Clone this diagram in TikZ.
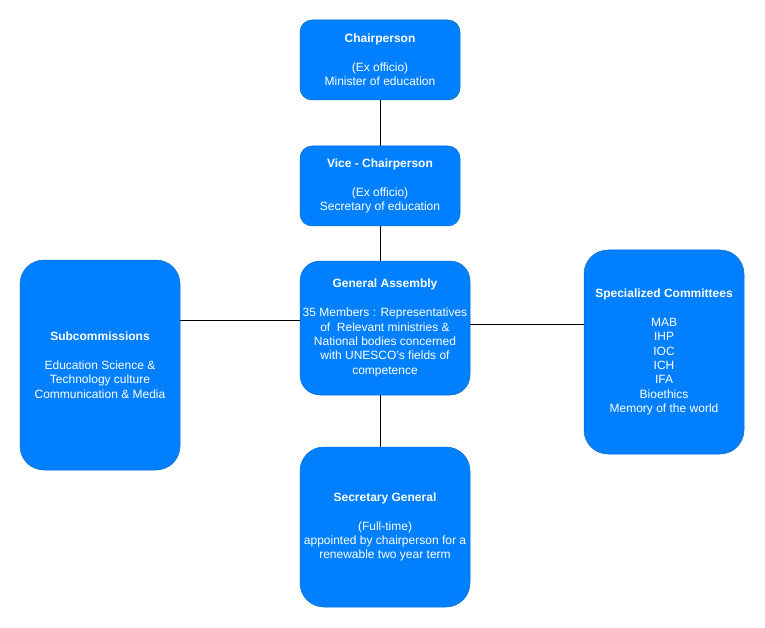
\documentclass[tikz,border=0pt]{standalone}
\usepackage{fontspec}
\setmainfont{Liberation Sans}
\usepackage{tikz}
\usetikzlibrary{positioning, calc}
\definecolor{boxblue}{HTML}{007FFF}

\begin{document}
\begin{tikzpicture}[
    x=1pt, y=-1pt,
    box/.style={draw=boxblue!85!black, line width=0.5pt, fill=boxblue, text=white, align=center, inner sep=0pt, font=\fontsize{12}{14.4}\selectfont},
    line/.style={draw=black, line width=0.8pt}
]
    \useasboundingbox (0,0) rectangle (765,628);
    \node[box, rounded corners=12pt, minimum width=160pt, minimum height=80pt] at (380,60) (chair) {\textbf{Chairperson}\\[14.4pt](Ex officio)\\Minister of education};
    \node[box, rounded corners=12pt, minimum width=160pt, minimum height=80pt] at (380,186) (vice) {\textbf{Vice - Chairperson}\\[14.4pt](Ex officio)\\Secretary of education};
    \node[box, rounded corners=20pt, minimum width=170pt, minimum height=134pt] at (385,328) (ga) {\textbf{General Assembly}\\[14.4pt]35 Members : Representatives\\of \ Relevant ministries \&\\National bodies concerned\\with UNESCO's fields of\\competence};
    \node[box, rounded corners=24pt, minimum width=160pt, minimum height=210pt] at (100,365) (sub) {\textbf{Subcommissions}\\[14.4pt]Education Science \&\\Technology culture\\Communication \& Media};
    \node[box, rounded corners=24pt, minimum width=160pt, minimum height=204pt] at (664,352) (spec) {\textbf{Specialized Committees}\\[14.4pt]MAB\\IHP\\IOC\\ICH\\IFA\\Bioethics\\Memory of the world};
    \node[box, rounded corners=24pt, minimum width=170pt, minimum height=160pt] at (385,527) (secgen) {\textbf{Secretary General}\\[14.4pt](Full-time)\\appointed by chairperson for a\\renewable two year term};
    \draw[line] (chair.south) -- (vice.north);
    \draw[line] (vice.south) -- (vice.south |- ga.north);
    \draw[line] (sub.east |- 0,320) -- (ga.west |- 0,320);
    \draw[line] (ga.east |- 0,324) -- (spec.west |- 0,324);
    \draw[line] (vice.south |- ga.south) -- (vice.south |- secgen.north);
\end{tikzpicture}
\end{document}
